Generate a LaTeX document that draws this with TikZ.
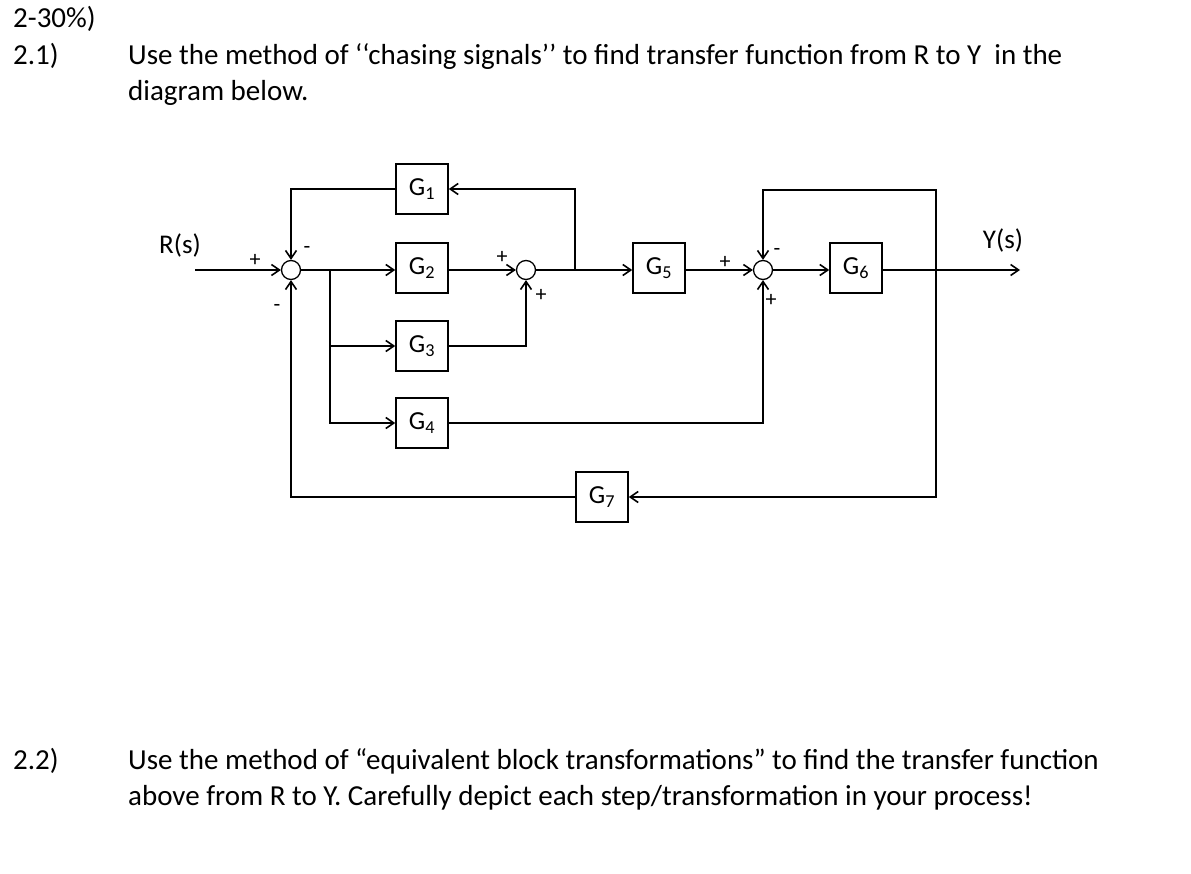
\documentclass[tikz,border=0pt]{standalone}
\usepackage{fontspec}
\setmainfont{Carlito}
\usetikzlibrary{arrows.meta}
\begin{document}
\begin{tikzpicture}[x=1pt,y=-1pt,
 blk/.style={draw,line width=1.6pt,minimum width=52pt,minimum height=50pt,font=\fontsize{26}{26}\selectfont,inner sep=0},
 sm/.style={draw,line width=1.3pt,circle,minimum size=19pt,inner sep=0},
 ln/.style={line width=1.6pt},
 ar/.style={ln,-{Straight Barb[length=8pt,width=11pt,line width=1.6pt]}},
 sg/.style={font=\fontsize{22}{22}\selectfont,inner sep=0},
 tx/.style={font=\fontsize{29}{29}\selectfont,inner sep=0,anchor=base west}]
\useasboundingbox (0,0) rectangle (1191,874);
\node[tx] (h0) at (13,28) {2-30\%)};
\node[tx] (h1) at (13,65) {2.1)};
\node[tx] (t1) at (128,65) {Use the method of \symbol{96}\symbol{96}chasing signals’’ to find transfer function from R to Y\ \ in the};
\node[tx] (t2) at (128,101) {diagram below.};
\node[tx] (h2) at (13,769) {2.2)};
\node[tx] (t3) at (128,769) {Use the method of “equivalent block transformations” to find the transfer function};
\node[tx] (t4) at (128,805) {above from R to Y. Carefully depict each step/transformation in your process!};
\node[sg,font=\fontsize{27}{27}\selectfont] (R) at (180,245) {R(s)};
\node[sg,font=\fontsize{27}{27}\selectfont] (Y) at (1003,240) {Y(s)};
\node[sm] (s1) at (291,270) {};
\node[sm] (s2) at (526,270) {};
\node[sm] (s3) at (763,270) {};
\node[blk] (G1) at (422,189) {G\textsubscript{1}};
\node[blk] (G2) at (422,268) {G\textsubscript{2}};
\node[blk] (G3) at (422,346) {G\textsubscript{3}};
\node[blk] (G4) at (422,423) {G\textsubscript{4}};
\node[blk] (G5) at (659,268) {G\textsubscript{5}};
\node[blk] (G6) at (856,268) {G\textsubscript{6}};
\node[blk] (G7) at (602,497) {G\textsubscript{7}};
\coordinate (in) at (195,270);
\coordinate (out) at (1020,270);
\coordinate (b1) at (330,270);
\coordinate (b2) at (575,270);
\coordinate (b3) at (936,270);
\draw[ar] (in) -- (s1);
\draw[ar] (s1) -- (G2.west|-s1);
\draw[ar] (G2.east|-s2) -- (s2);
\draw[ar] (s2) -- (G5.west|-s2);
\draw[ar] (G5.east|-s3) -- (s3);
\draw[ar] (s3) -- (G6.west|-s3);
\draw[ar] (G6.east|-out) -- (out);
\draw[ar] (b2) |- (G1.east);
\draw[ar] (G1.west) -| (s1.north);
\draw[ar] (b1) |- (G3.west);
\draw[ar] (b1) |- (G4.west);
\draw[ar] (G3.east) -| (s2.south);
\draw[ar] (G4.east) -| (s3.south);
\draw[ar] (b3) |- (763,190) -- (s3.north);
\draw[ar] (b3) |- (G7.east);
\draw[ar] (G7.west) -| (s1.south);
\node[sg] (p1) at (255,260) {+};
\node[sg] (m1) at (307,250) {-};
\node[sg] (m2) at (277,308) {-};
\node[sg] (p2) at (502,257) {+};
\node[sg] (p3) at (541,295) {+};
\node[sg] (p4) at (725,262) {+};
\node[sg] (m3) at (777,252) {-};
\node[sg] (p5) at (771,300) {+};
\end{tikzpicture}
\end{document}
